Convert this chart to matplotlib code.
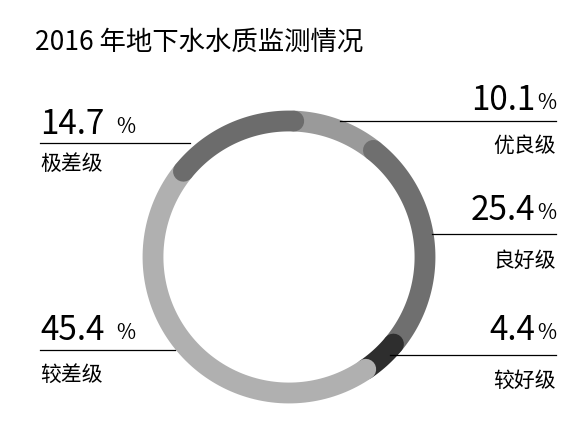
import numpy as np
import matplotlib.pyplot as plt

plt.rcParams['font.family'] = ['Noto Sans CJK SC', 'DejaVu Sans']

title = "2016 年地下水水质监测情况"
names = ["优良级", "良好级", "较好级", "较差级", "极差级"]
values = [10.1, 25.4, 4.4, 45.4, 14.7]
colors = ["#9a9a9a", "#6f6f6f", "#2e2e2e", "#b0b0b0", "#6c6c6c"]

fig = plt.figure(figsize=(5.85, 4.25), dpi=100)
ax = fig.add_axes([0, 0, 1, 1])
ax.set_xlim(0, 585)
ax.set_ylim(425, 0)
ax.axis("off")

# anillo: empieza arriba, sentido horario
cx, cy, r = 289, 257, 136
start = 88.0
for v, c in zip(values, colors):
    t = np.radians(np.linspace(start, start - v * 3.6, 100))
    ax.plot(cx + r * np.cos(t), cy - r * np.sin(t), color=c, lw=15,
            solid_capstyle="round")
    start -= v * 3.6

ax.text(35, 42, title, fontsize=19, va="center")

# etiquetas: (lado, y numero, y linea, x inicio linea, y nombre)
layout = [("r", 100, 121, 340, 146),
          ("r", 210, 234, 432, 261),
          ("r", 330, 355, 390, 381),
          ("l", 330, 350, 175, 375),
          ("l", 124, 143, 190, 164)]
for (side, yn, yl, xl, yt), v, nm in zip(layout, values, names):
    if side == "r":
        ax.text(535, yn, f"{v}", fontsize=24, ha="right", va="center")
        ax.text(556, yn + 3, "%", fontsize=15, ha="right", va="center")
        ax.plot([xl, 556], [yl, yl], color="black", lw=0.9)
        ax.text(556, yt, nm, fontsize=15, ha="right", va="center")
    else:
        ax.text(40, yn, f"{v}", fontsize=24, ha="left", va="center")
        ax.text(116, yn + 3, "%", fontsize=15, ha="left", va="center")
        ax.plot([40, xl], [yl, yl], color="black", lw=0.9)
        ax.text(40, yt, nm, fontsize=15, ha="left", va="center")

fig.savefig("out.png", dpi=100)
